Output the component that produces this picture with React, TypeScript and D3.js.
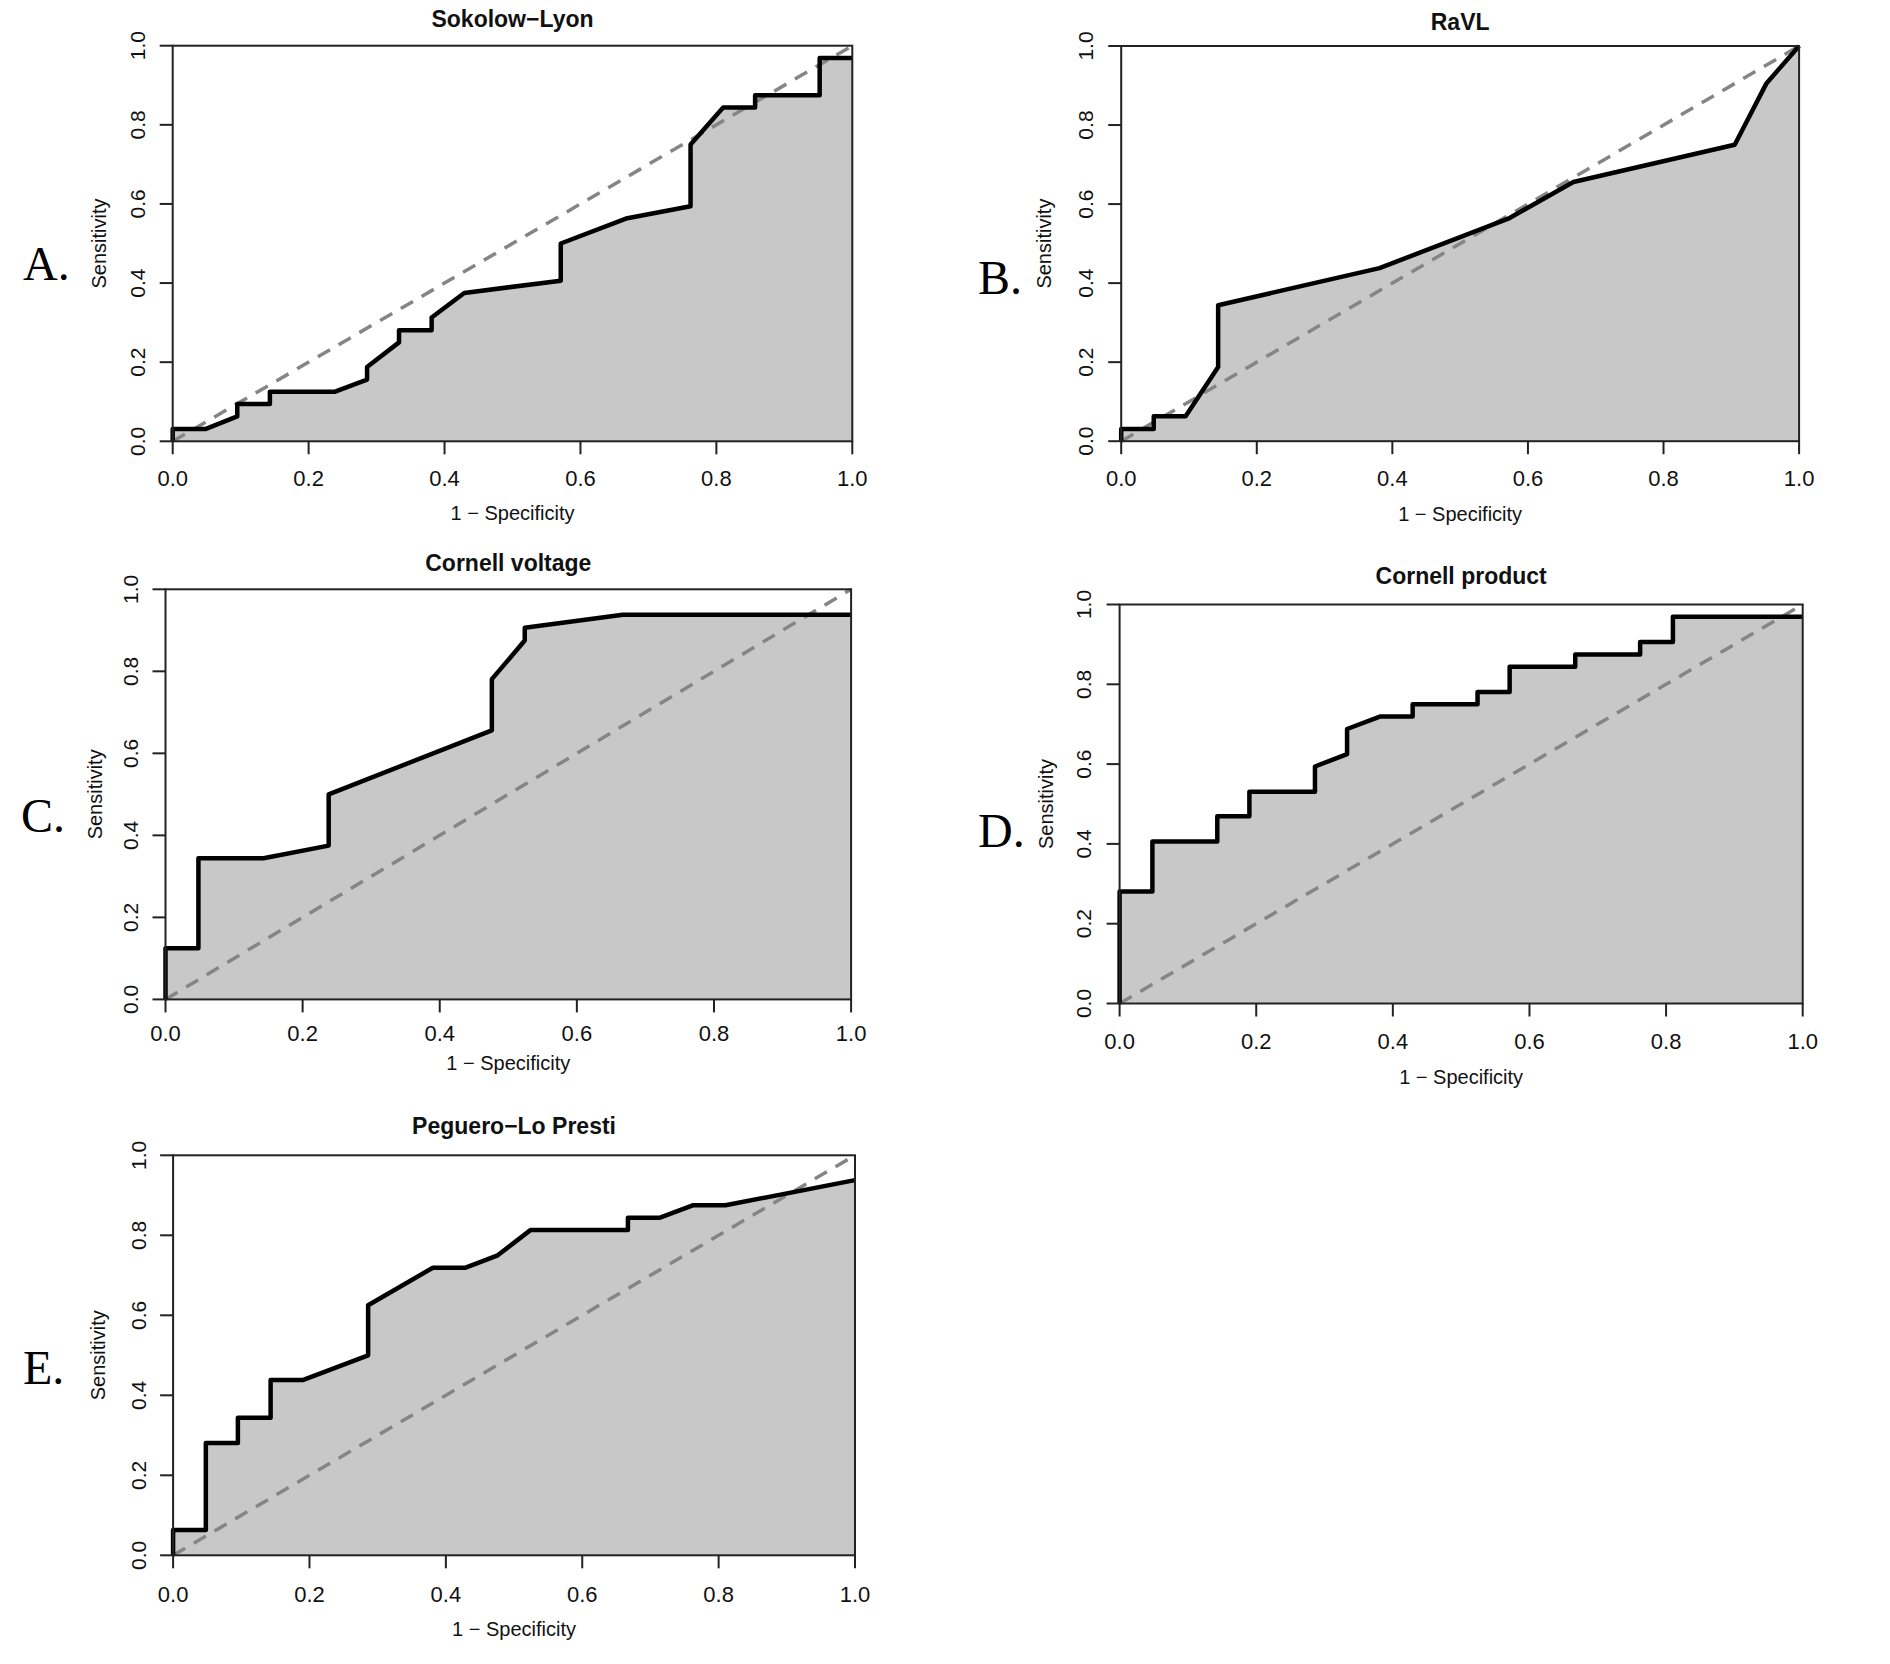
import React from 'react';
import * as d3 from 'd3';

// ROC curves (1 - specificity, sensitivity)
const sokolowFpr = [0, 0, 0.048, 0.095, 0.095, 0.143, 0.143, 0.238, 0.286, 0.286, 0.333, 0.333, 0.381, 0.381, 0.429, 0.571, 0.571, 0.667, 0.762, 0.762, 0.81, 0.857, 0.857, 0.952, 0.952, 1];
const sokolowTpr = [0, 0.031, 0.031, 0.063, 0.094, 0.094, 0.125, 0.125, 0.156, 0.188, 0.25, 0.281, 0.281, 0.313, 0.375, 0.406, 0.5, 0.563, 0.594, 0.75, 0.844, 0.844, 0.875, 0.875, 0.969, 0.969];

const ravlFpr = [0, 0, 0.048, 0.048, 0.095, 0.143, 0.143, 0.381, 0.571, 0.667, 0.905, 0.952, 1];
const ravlTpr = [0, 0.031, 0.031, 0.063, 0.063, 0.188, 0.344, 0.438, 0.563, 0.656, 0.75, 0.906, 1];

const cornellVFpr = [0, 0, 0.048, 0.048, 0.143, 0.238, 0.238, 0.476, 0.476, 0.524, 0.524, 0.667, 1];
const cornellVTpr = [0, 0.125, 0.125, 0.344, 0.344, 0.375, 0.5, 0.656, 0.781, 0.875, 0.906, 0.938, 0.938];

const cornellPFpr = [0, 0, 0.048, 0.048, 0.143, 0.143, 0.19, 0.19, 0.286, 0.286, 0.333, 0.333, 0.381, 0.429, 0.429, 0.524, 0.524, 0.571, 0.571, 0.667, 0.667, 0.762, 0.762, 0.81, 0.81, 1];
const cornellPTpr = [0, 0.281, 0.281, 0.406, 0.406, 0.469, 0.469, 0.531, 0.531, 0.594, 0.625, 0.688, 0.719, 0.719, 0.75, 0.75, 0.781, 0.781, 0.844, 0.844, 0.875, 0.875, 0.906, 0.906, 0.969, 0.969];

const pegueroFpr = [0, 0, 0.048, 0.048, 0.095, 0.095, 0.143, 0.143, 0.19, 0.286, 0.286, 0.381, 0.429, 0.476, 0.524, 0.667, 0.667, 0.714, 0.762, 0.81, 1];
const pegueroTpr = [0, 0.063, 0.063, 0.281, 0.281, 0.344, 0.344, 0.438, 0.438, 0.5, 0.625, 0.719, 0.719, 0.75, 0.813, 0.813, 0.844, 0.844, 0.875, 0.875, 0.938];

const titles = ['Sokolow\u2212Lyon', 'RaVL', 'Cornell voltage', 'Cornell product', 'Peguero\u2212Lo Presti'];
const letters = ['A.', 'B.', 'C.', 'D.', 'E.'];
const xLabel = '1 \u2212 Specificity';
const yLabel = 'Sensitivity';

// where each panel sits on the page
const layout = [
  { box: [172.7, 852.3, 45.7, 441.3], titleY: 27, tickY: 486, xlabY: 520, ylabX: 106, ytickX: 145, letterX: 23, letterY: 280 },
  { box: [1121.2, 1799.1, 46, 441.2], titleY: 30, tickY: 486, xlabY: 521, ylabX: 1051, ytickX: 1093, letterX: 978, letterY: 294 },
  { box: [165.5, 851.1, 589.3, 999.4], titleY: 571, tickY: 1041, xlabY: 1070, ylabX: 102, ytickX: 138, letterX: 21, letterY: 832 },
  { box: [1119.6, 1802.7, 604.5, 1003.5], titleY: 584, tickY: 1049, xlabY: 1084, ylabX: 1053, ytickX: 1091, letterX: 978, letterY: 847 },
  { box: [173.1, 855, 1155.3, 1555.3], titleY: 1134, tickY: 1602, xlabY: 1636, ylabX: 105, ytickX: 146, letterX: 23, letterY: 1384 },
];

const series = [
  [sokolowFpr, sokolowTpr],
  [ravlFpr, ravlTpr],
  [cornellVFpr, cornellVTpr],
  [cornellPFpr, cornellPTpr],
  [pegueroFpr, pegueroTpr],
];

const SANS = '"Liberation Sans", Arial, Helvetica, sans-serif';
const SERIF = '"Liberation Serif", "Times New Roman", serif';
const fmt = d3.format('.1f');

function RocPanel({ idx }: { idx: number }) {
  const L = layout[idx];
  const [x0, x1, y0, y1] = L.box;
  const x = d3.scaleLinear().domain([0, 1]).range([x0, x1]);
  const y = d3.scaleLinear().domain([0, 1]).range([y1, y0]);
  const [fpr, tpr] = series[idx];
  const pts: [number, number][] = fpr.map((f, i) => [f, tpr[i]]);

  const area = d3.area<[number, number]>()
    .x(d => x(d[0]))
    .y0(y(0))
    .y1(d => y(d[1]));
  const line = d3.line<[number, number]>()
    .x(d => x(d[0]))
    .y(d => y(d[1]));

  const ticks = x.ticks(5);
  const cx = (x0 + x1) / 2;
  const cy = (y0 + y1) / 2;

  return (
    <g>
      <path d={area(pts) || ''} fill="#c8c8c8" stroke="none" />
      <line x1={x(0)} y1={y(0)} x2={x(1)} y2={y(1)} stroke="#858585" strokeWidth={3.5} strokeDasharray="14,10" />
      <path d={line(pts) || ''} fill="none" stroke="#000" strokeWidth={4.5} strokeLinejoin="round" />
      <rect x={x0} y={y0} width={x1 - x0} height={y1 - y0} fill="none" stroke="#222" strokeWidth={2} />

      {ticks.map(t => (
        <g key={'x' + t}>
          <line x1={x(t)} x2={x(t)} y1={y1} y2={y1 + 13} stroke="#222" strokeWidth={2} />
          <text x={x(t)} y={L.tickY} textAnchor="middle" fontSize={22} fontFamily={SANS} fill="#111">{fmt(t)}</text>
        </g>
      ))}
      {y.ticks(5).map(t => (
        <g key={'y' + t}>
          <line x1={x0} x2={x0 - 13} y1={y(t)} y2={y(t)} stroke="#222" strokeWidth={2} />
          <text transform={`translate(${L.ytickX},${y(t)}) rotate(-90)`} textAnchor="middle" fontSize={21} fontFamily={SANS} fill="#111">{fmt(t)}</text>
        </g>
      ))}

      <text x={cx} y={L.titleY} textAnchor="middle" fontSize={23} fontWeight="bold" fontFamily={SANS} fill="#111">{titles[idx]}</text>
      <text x={cx} y={L.xlabY} textAnchor="middle" fontSize={20} fontFamily={SANS} fill="#111">{xLabel}</text>
      <text transform={`translate(${L.ylabX},${cy}) rotate(-90)`} textAnchor="middle" fontSize={20} fontFamily={SANS} fill="#111">{yLabel}</text>
      <text x={L.letterX} y={L.letterY} fontSize={48} fontFamily={SERIF} fill="#000">{letters[idx]}</text>
    </g>
  );
}

export default function App() {
  return (
    <svg width={1890} height={1664} style={{ position: 'absolute', left: 0, top: 0, background: '#fff' }}>
      <rect width={1890} height={1664} fill="#fff" />
      {layout.map((_, i) => <RocPanel key={i} idx={i} />)}
    </svg>
  );
}
